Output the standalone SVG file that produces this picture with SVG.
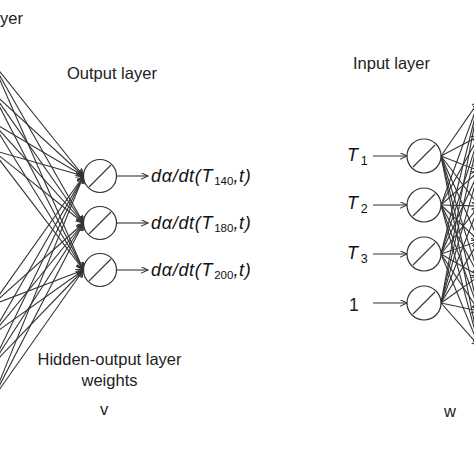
<svg xmlns="http://www.w3.org/2000/svg" width="474" height="474" viewBox="0 0 474 474">
<defs>
<style>
.w{stroke:#333;stroke-width:1.1;fill:none;marker-end:url(#ah)}
.node circle{fill:#fff;stroke:#333;stroke-width:1.2}
.node line{stroke:#333;stroke-width:1.1}
.lbl{font-family:"Liberation Sans",Arial,sans-serif;font-size:16.5px;fill:#222}
.mth{font-family:"Liberation Sans",Arial,sans-serif;font-size:18px;font-style:italic;fill:#111;letter-spacing:0.7px}
.sub{font-size:11.5px;font-style:normal;letter-spacing:0}
</style>
<marker id="ah" markerUnits="userSpaceOnUse" markerWidth="9" markerHeight="9" refX="7.5" refY="3.5" orient="auto">
<path d="M0,0 L7.5,3.5 L0,7" fill="none" stroke="#333" stroke-width="1.1"/>
</marker>
</defs>
<rect width="474" height="474" fill="#fff"/>
<g id="connectors">
<line class="w" x1="-8" y1="62" x2="83.5" y2="176"/><line class="w" x1="-8" y1="62" x2="83.5" y2="223"/><line class="w" x1="-8" y1="62" x2="83.5" y2="270"/>
<line class="w" x1="-8" y1="92" x2="83.5" y2="176"/><line class="w" x1="-8" y1="92" x2="83.5" y2="223"/><line class="w" x1="-8" y1="92" x2="83.5" y2="270"/>
<line class="w" x1="-8" y1="122" x2="83.5" y2="176"/><line class="w" x1="-8" y1="122" x2="83.5" y2="223"/><line class="w" x1="-8" y1="122" x2="83.5" y2="270"/>
<line class="w" x1="-8" y1="150" x2="83.5" y2="176"/><line class="w" x1="-8" y1="150" x2="83.5" y2="223"/><line class="w" x1="-8" y1="150" x2="83.5" y2="270"/>
<line class="w" x1="-8" y1="305" x2="83.5" y2="176"/><line class="w" x1="-8" y1="305" x2="83.5" y2="223"/><line class="w" x1="-8" y1="305" x2="83.5" y2="270"/>
<line class="w" x1="-8" y1="335" x2="83.5" y2="176"/><line class="w" x1="-8" y1="335" x2="83.5" y2="223"/><line class="w" x1="-8" y1="335" x2="83.5" y2="270"/>
<line class="w" x1="-8" y1="365" x2="83.5" y2="176"/><line class="w" x1="-8" y1="365" x2="83.5" y2="223"/><line class="w" x1="-8" y1="365" x2="83.5" y2="270"/>
<line class="w" x1="-8" y1="400" x2="83.5" y2="176"/><line class="w" x1="-8" y1="400" x2="83.5" y2="223"/><line class="w" x1="-8" y1="400" x2="83.5" y2="270"/>
<line class="w" x1="116.5" y1="176" x2="148" y2="176"/><line class="w" x1="116.5" y1="223" x2="148" y2="223"/><line class="w" x1="116.5" y1="270" x2="148" y2="270"/>
<line class="w" x1="373" y1="156" x2="407" y2="156"/><line class="w" x1="373" y1="205" x2="407" y2="205"/><line class="w" x1="373" y1="254" x2="407" y2="254"/><line class="w" x1="373" y1="303" x2="407" y2="303"/>
<line class="w" x1="441" y1="156" x2="479" y2="101"/><line class="w" x1="441" y1="156" x2="479" y2="136"/><line class="w" x1="441" y1="156" x2="479" y2="171"/><line class="w" x1="441" y1="156" x2="479" y2="206"/><line class="w" x1="441" y1="156" x2="479" y2="241"/><line class="w" x1="441" y1="156" x2="479" y2="276"/><line class="w" x1="441" y1="156" x2="479" y2="311"/><line class="w" x1="441" y1="156" x2="479" y2="346"/>
<line class="w" x1="441" y1="205" x2="479" y2="101"/><line class="w" x1="441" y1="205" x2="479" y2="136"/><line class="w" x1="441" y1="205" x2="479" y2="171"/><line class="w" x1="441" y1="205" x2="479" y2="206"/><line class="w" x1="441" y1="205" x2="479" y2="241"/><line class="w" x1="441" y1="205" x2="479" y2="276"/><line class="w" x1="441" y1="205" x2="479" y2="311"/><line class="w" x1="441" y1="205" x2="479" y2="346"/>
<line class="w" x1="441" y1="254" x2="479" y2="101"/><line class="w" x1="441" y1="254" x2="479" y2="136"/><line class="w" x1="441" y1="254" x2="479" y2="171"/><line class="w" x1="441" y1="254" x2="479" y2="206"/><line class="w" x1="441" y1="254" x2="479" y2="241"/><line class="w" x1="441" y1="254" x2="479" y2="276"/><line class="w" x1="441" y1="254" x2="479" y2="311"/><line class="w" x1="441" y1="254" x2="479" y2="346"/>
<line class="w" x1="441" y1="303" x2="479" y2="101"/><line class="w" x1="441" y1="303" x2="479" y2="136"/><line class="w" x1="441" y1="303" x2="479" y2="171"/><line class="w" x1="441" y1="303" x2="479" y2="206"/><line class="w" x1="441" y1="303" x2="479" y2="241"/><line class="w" x1="441" y1="303" x2="479" y2="276"/><line class="w" x1="441" y1="303" x2="479" y2="311"/><line class="w" x1="441" y1="303" x2="479" y2="346"/>
</g>
<g id="out1" class="node"><circle cx="100" cy="176" r="16.5"/><line x1="89" y1="187" x2="111" y2="165"/></g>
<g id="out2" class="node"><circle cx="100" cy="223" r="16.5"/><line x1="89" y1="234" x2="111" y2="212"/></g>
<g id="out3" class="node"><circle cx="100" cy="270" r="16.5"/><line x1="89" y1="281" x2="111" y2="259"/></g>
<g id="in1" class="node"><circle cx="424" cy="156" r="17"/><line x1="413" y1="167" x2="435" y2="145"/></g>
<g id="in2" class="node"><circle cx="424" cy="205" r="17"/><line x1="413" y1="216" x2="435" y2="194"/></g>
<g id="in3" class="node"><circle cx="424" cy="254" r="17"/><line x1="413" y1="265" x2="435" y2="243"/></g>
<g id="in4" class="node"><circle cx="424" cy="303" r="17"/><line x1="413" y1="314" x2="435" y2="292"/></g>
<g id="labels">
<text class="lbl" x="0" y="24">yer</text>
<text class="lbl" x="67" y="78.5">Output layer</text>
<text class="lbl" x="353" y="69">Input layer</text>
<text class="lbl" x="109.5" y="365" text-anchor="middle">Hidden-output layer</text>
<text class="lbl" x="109.5" y="386" text-anchor="middle">weights</text>
<text class="lbl" x="104" y="415" text-anchor="middle">v</text>
<text class="lbl" x="450" y="417" text-anchor="middle">w</text>
<text class="mth" x="151" y="182">dα/dt(T<tspan class="sub" dx="1" dy="3">140</tspan><tspan dy="-3">,t)</tspan></text>
<text class="mth" x="151" y="229">dα/dt(T<tspan class="sub" dx="1" dy="3">180</tspan><tspan dy="-3">,t)</tspan></text>
<text class="mth" x="151" y="276">dα/dt(T<tspan class="sub" dx="1" dy="3">200</tspan><tspan dy="-3">,t)</tspan></text>
<text class="mth" x="347" y="161">T<tspan class="sub" style="font-size:12.5px" dx="2" dy="4">1</tspan></text>
<text class="mth" x="347" y="209">T<tspan class="sub" style="font-size:12.5px" dx="2" dy="4">2</tspan></text>
<text class="mth" x="347" y="259">T<tspan class="sub" style="font-size:12.5px" dx="2" dy="4">3</tspan></text>
<text class="lbl" x="349" y="311" style="font-size:17.5px">1</text>
</g>
</svg>
